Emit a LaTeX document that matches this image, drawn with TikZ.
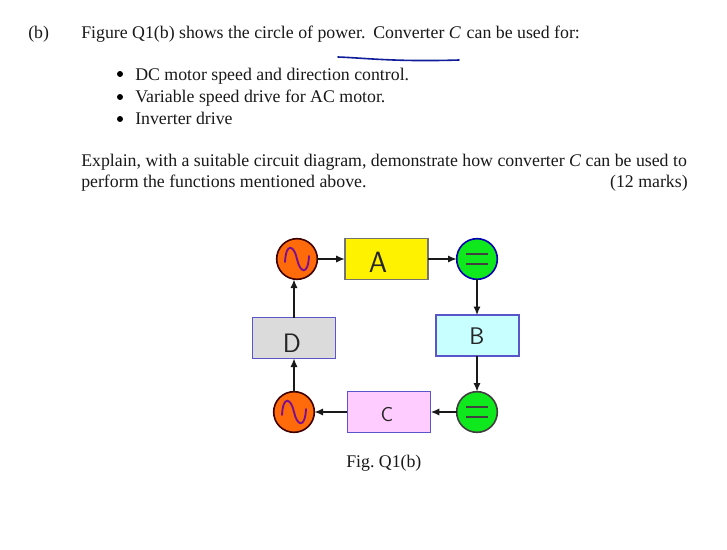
\documentclass[tikz,border=0pt]{standalone}
\usepackage{fontspec}
\setmainfont{Liberation Serif}
\usetikzlibrary{arrows.meta,calc}
\definecolor{acfill}{HTML}{FF6A0A}
\definecolor{dcfill}{HTML}{10E81E}
\definecolor{boxedge}{HTML}{5A55C8}
\definecolor{inkblue}{HTML}{101C9A}
\definecolor{sinecol}{HTML}{7A1090}
\definecolor{bfill}{HTML}{C8FFFF}
\definecolor{cfill}{HTML}{FFCCFF}
\tikzset{
  txt/.style={anchor=base west,inner sep=0pt,font=\fontsize{13.35pt}{15pt}\selectfont,text=black!90},
  src/.style={circle,draw=#1,line width=1.2pt,minimum size=30.5pt,inner sep=0pt,outer sep=0pt},
  blk/.style={draw=#1,line width=1.1pt,minimum width=62.5pt,minimum height=30.5pt,inner sep=0pt,outer sep=0pt},
  hand/.style={inner sep=0pt,text=black!85},
  conn/.style={line width=1.2pt,black!90,-{Latex[length=6.5pt,width=5.5pt]}},
  wave/.style={line width=1.4pt,sinecol,line cap=round},
  bars/.style={line width=1.4pt,black!75}
}
\newcommand{\sinewave}[1]{\draw[wave] ($(#1)+(-12,3)$) .. controls ($(#1)+(-11,-17)$) and ($(#1)+(-3,-14)$) .. ($(#1)+(0,0)$) .. controls ($(#1)+(3,14)$) and ($(#1)+(11,17)$) .. ($(#1)+(12,-3)$);}
\newcommand{\eqbars}[1]{\draw[bars] ($(#1)+(-11,-5)$) -- ($(#1)+(11,-5)$) ($(#1)+(-11,5)$) -- ($(#1)+(11,5)$);}
\begin{document}
\frenchspacing
\begin{tikzpicture}[x=0.75pt,y=-0.75pt]
\useasboundingbox (0,0) rectangle (727,549);
\fill[white] (0,0) rectangle (727,549);
\node[txt] (qlabel) at (28,38.5) {(b)};
\node[txt] (l1) at (81,38.5) {Figure Q1(b) shows the circle of power.\hspace{2.5pt} Converter \textit{C}\hspace{1pt} can be used for:};
\fill[black] (120,74) circle (3);
\fill[black] (120,97) circle (3);
\fill[black] (120,119) circle (3);
\node[txt] (b1) at (135,80.5) {DC motor speed and direction control.};
\node[txt] (b2) at (135,103) {Variable speed drive for AC motor.};
\node[txt] (b3) at (135,125) {Inverter drive};
\node[txt] (l2) at (81,166.5) {Explain, with a suitable circuit diagram, demonstrate how converter \textit{C} can be used to};
\node[txt] (l3) at (81,187) {perform the functions mentioned above.};
\node[txt,anchor=base east] (marks) at (688,187) {(12 marks)};
\node[txt] (cap) at (346,467) {Fig. Q1(b)};
\draw[inkblue,line width=1.2pt,line cap=round] (338,57) .. controls (365,58) and (395,62) .. (459,60);

\node[blk=black!55,fill=yellow] (A) at (386.5,259) {};
\node[blk=boxedge,fill=bfill] (B) at (477.5,335.5) {};
\node[blk=boxedge,fill=cfill] (C) at (389,412) {};
\node[blk=boxedge,fill=black!14] (D) at (294,338) {};
\node[hand,font=\sffamily\fontsize{22pt}{24pt}\selectfont] (Atext) at (378,262) {A};
\node[hand,font=\sffamily\fontsize{18pt}{20pt}\selectfont] (Btext) at (477,336) {B};
\node[hand,font=\sffamily\fontsize{15pt}{17pt}\selectfont] (Ctext) at (387,415) {C};
\node[hand,font=\sffamily\fontsize{20pt}{22pt}\selectfont] (Dtext) at (292,343) {D};
\node[src=black!75!red,fill=acfill] (s1) at (297,259) {};
\node[src=blue!70!black,fill=dcfill] (s2) at (477,259) {};
\node[src=black!75,fill=dcfill] (s3) at (477,412) {};
\node[src=black!75!red,fill=acfill] (s4) at (294,412) {};
\sinewave{s1}
\eqbars{s2}
\eqbars{s3}
\sinewave{s4}
\draw[conn] (s1) -- (A);
\draw[conn] (A) -- (s2);
\draw[conn] (s2) -- (s2 |- B.north);
\draw[conn] (s3 |- B.south) -- (s3);
\draw[conn] (s3) -- (C);
\draw[conn] (C) -- (s4);
\draw[conn] (s4) -- (D);
\draw[conn] (D.north) -- (D.north |- s1.south);
\end{tikzpicture}
\end{document}
